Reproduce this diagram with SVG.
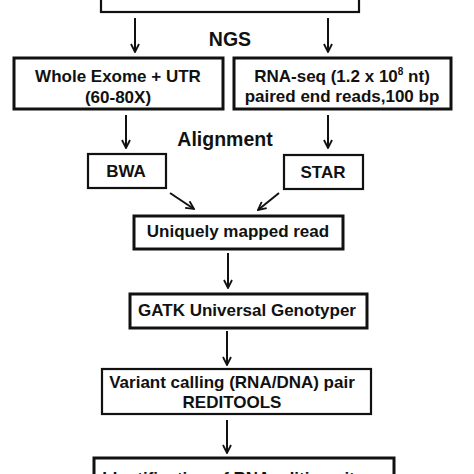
<svg xmlns="http://www.w3.org/2000/svg" width="474" height="474" viewBox="0 0 474 474">
<defs>
<style>
text{font-family:"Liberation Sans",Arial,sans-serif;font-weight:bold;fill:#111;text-anchor:middle}
.t{font-size:17px}
.h{font-size:19.5px}
.box{fill:#fff;stroke:#111}
.thick{stroke-width:3}
.thin{stroke-width:2.2}
.c line{stroke:#111;stroke-width:2}
</style>
<marker id="ah" viewBox="0 0 10 10" refX="9" refY="5" markerWidth="10" markerHeight="10" markerUnits="userSpaceOnUse" orient="auto">
<path d="M1,1 L9,5 L1,9" fill="none" stroke="#111" stroke-width="1.8"/>
</marker>
</defs>
<rect width="474" height="474" fill="#fff"/>
<g id="top"><rect class="box thin" x="101" y="-10" width="258" height="22"/></g>
<text class="h" x="230" y="46">NGS</text>
<g id="exome"><rect class="box thick" x="14" y="58" width="209" height="51"/>
<text class="t" x="118" y="82">Whole Exome + UTR</text>
<text class="t" x="118" y="103">(60-80X)</text></g>
<g id="rnaseq"><rect class="box thick" x="234" y="58" width="217" height="51"/>
<text class="t" x="342" y="82">RNA-seq (1.2 x 10<tspan font-size="10" dy="-7">8</tspan><tspan dy="7"> nt)</tspan></text>
<text class="t" x="342" y="102">paired end reads,100 bp</text></g>
<text class="h" x="225" y="146">Alignment</text>
<g id="bwa"><rect class="box thin" x="88" y="154" width="78" height="34"/>
<text class="t" x="126" y="177">BWA</text></g>
<g id="star"><rect class="box thin" x="284" y="155" width="79" height="34"/>
<text class="t" x="323" y="178">STAR</text></g>
<g id="unique"><rect class="box thick" x="134" y="216" width="209" height="33"/>
<text class="t" x="238" y="237">Uniquely mapped read</text></g>
<g id="gatk"><rect class="box thick" x="130" y="294" width="237" height="34"/>
<text class="t" x="247" y="316">GATK Universal Genotyper</text></g>
<g id="variant"><rect class="box thin" x="102" y="369" width="269" height="45"/>
<text class="t" x="232" y="388">Variant calling (RNA/DNA) pair</text>
<text class="t" x="232" y="408">REDITOOLS</text></g>
<g id="ident"><rect class="box thick" x="94" y="458" width="300" height="40"/>
<text class="t" x="238" y="484">Identification of RNA editing sites</text></g>
<g class="c" id="connectors">
<line x1="135" y1="18" x2="135" y2="52" marker-end="url(#ah)"/>
<line x1="328" y1="18" x2="328" y2="52" marker-end="url(#ah)"/>
<line x1="126" y1="115" x2="126" y2="148" marker-end="url(#ah)"/>
<line x1="328" y1="115" x2="328" y2="148" marker-end="url(#ah)"/>
<line x1="170" y1="193" x2="194" y2="209" marker-end="url(#ah)"/>
<line x1="279" y1="193" x2="258" y2="210" marker-end="url(#ah)"/>
<line x1="228" y1="253" x2="228" y2="288" marker-end="url(#ah)"/>
<line x1="227" y1="331" x2="227" y2="365" marker-end="url(#ah)"/>
<line x1="227" y1="420" x2="227" y2="453" marker-end="url(#ah)"/>
</g>
</svg>
